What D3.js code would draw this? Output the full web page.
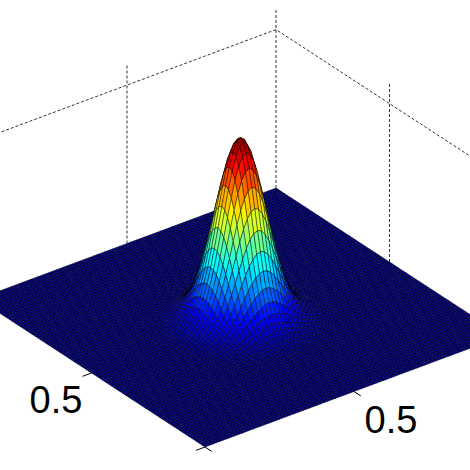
<!DOCTYPE html>
<html><head><meta charset="utf-8">
<script src="https://cdn.jsdelivr.net/npm/d3@7"></script>
<style>body{margin:0;background:#fff}svg{display:block}</style>
</head><body>
<script>
// data
const gridN = 80;                 // mesh cells per side
const peakCenter = [0.5, 0.5];
const peakHeight = 1.0;
const peakSigma = 0.068;
const xTickLabels = ["0.5"];
const yTickLabels = ["0.5"];
const zGrid = [0.88];
const zMax = 1.0;

const W = 470, H = 470;
const svg = d3.select("body").append("svg").attr("width", W).attr("height", H)
  .style("overflow","hidden");

const F = [205, 447], R = [503, 336], L = [-22, 299];
const zs = d3.scaleLinear().domain([0, 1]).range([0, 180]);
function P(u, v, z) {
  return [F[0] + u*(R[0]-F[0]) + v*(L[0]-F[0]),
          F[1] + u*(R[1]-F[1]) + v*(L[1]-F[1]) - zs(z)];
}

const g = svg.append("g").attr("stroke","#000").attr("stroke-width",0.8)
  .attr("stroke-dasharray","3,2").attr("fill","none");
const line = d3.line();
g.append("path").attr("d", line([P(1,1,0), P(1,1,zMax)]));
zGrid.forEach(z => {
  g.append("path").attr("d", line([P(0,1,z), P(1,1,z), P(1,0,z)]));
});
[0.5].forEach(t => {
  g.append("path").attr("d", line([P(t,1,0), P(t,1,zMax)]));
  g.append("path").attr("d", line([P(1,t,0), P(1,t,zMax)]));
});

const xs = d3.range(gridN+1).map(i => i/gridN);
function zf(u, v) {
  const d2 = (u-peakCenter[0])**2 + (v-peakCenter[1])**2;
  return peakHeight * Math.exp(-d2/(2*peakSigma*peakSigma));
}
const Z = xs.map(u => xs.map(v => zf(u, v)));
function jet(t) {
  t = Math.max(0, Math.min(1, t));
  const r = Math.max(0, Math.min(1, 1.5 - Math.abs(4*t - 3)));
  const gg = Math.max(0, Math.min(1, 1.5 - Math.abs(4*t - 2)));
  const b = Math.max(0, Math.min(1, 1.5 - Math.abs(4*t - 1)));
  return d3.rgb(r*255, gg*255, b*255).toString();
}
const quads = [];
for (let i = 0; i < gridN; i++) for (let j = 0; j < gridN; j++) quads.push({i, j, d: i + j});
quads.sort((a, b) => b.d - a.d);
const sg = svg.append("g");
quads.forEach(q => {
  const {i, j} = q;
  const pts = [P(xs[i],xs[j],Z[i][j]), P(xs[i+1],xs[j],Z[i+1][j]),
               P(xs[i+1],xs[j+1],Z[i+1][j+1]), P(xs[i],xs[j+1],Z[i][j+1])];
  const zc = (Z[i][j]+Z[i+1][j]+Z[i+1][j+1]+Z[i][j+1])/4;
  sg.append("path").attr("d", line(pts) + "Z")
    .attr("fill", jet(zc/peakHeight))
    .attr("stroke", "#000").attr("stroke-width", 0.5).attr("stroke-opacity", 0.85);
});

const tg = svg.append("g").attr("stroke","#000").attr("stroke-width",1);
function tick(a, b) { tg.append("path").attr("d", line([a, b])); }
[0, 0.5, 1].forEach(t => tick(P(t,0,0), P(t,-0.03,0)));
[0, 0.5, 1].forEach(t => tick(P(0,t,0), P(-0.03,t,0)));
const lab = svg.append("g").attr("font-family","Liberation Sans, Arial, sans-serif")
  .attr("font-size", 38).attr("fill","#000").attr("text-anchor","middle");
const pu = P(0.5,-0.13,0), pv = P(-0.13,0.5,0);
lab.append("text").attr("x", 391).attr("y", 433).text(xTickLabels[0]);
lab.append("text").attr("x", 56).attr("y", 413).text(yTickLabels[0]);
</script>
</body></html>
